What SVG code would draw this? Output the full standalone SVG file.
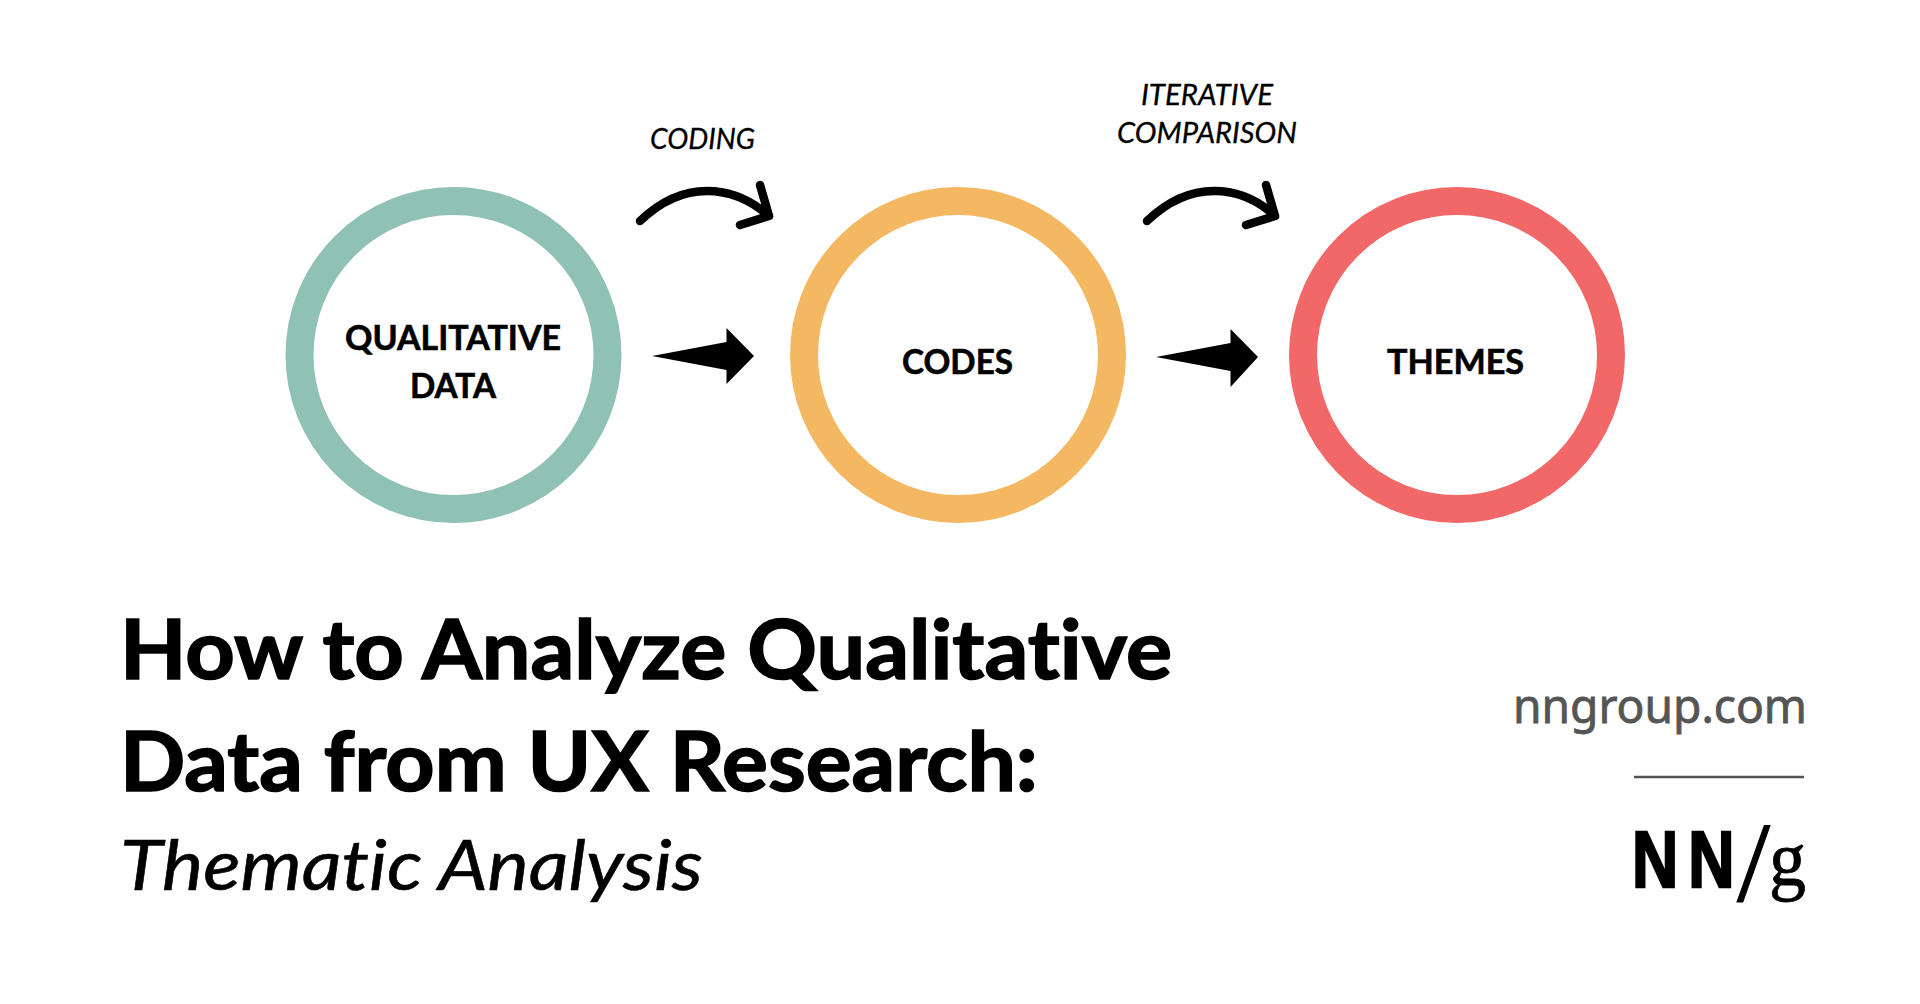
<svg xmlns="http://www.w3.org/2000/svg" width="1920" height="1004" viewBox="0 0 1920 1004">
<style>
text{font-family:"Lato","Open Sans",sans-serif;fill:#000;font-variant-ligatures:none}
.ring{fill:#fff;stroke-width:28}
.node{font-size:34px;font-weight:700;stroke:#000;stroke-width:.6px}
.lab{font-size:28px;font-style:italic;stroke:#000;stroke-width:.3px}
.curve{fill:none;stroke:#000;stroke-width:8.500;stroke-linecap:round;stroke-linejoin:round}
.title{font-size:82px;font-weight:700;stroke:#000;stroke-width:1.6px}
</style>
<rect width="1920" height="1004" fill="#fff"/>
<g id="connectors">
<path id="curve-1" class="curve" d="M640 221C662 200 686 191 707 191C732 191 752 201 769 216M760 185L769 216L740 225"/>
<path id="curve-2" class="curve" d="M1147 221C1169 200 1193 191 1214 191C1239 191 1259 201 1275 216M1266 185L1275 216L1246 225"/>
<polygon id="arrow-1" points="652,356 726.5,342 726.5,328 754,356 726.5,384 726.5,370"/>
<polygon id="arrow-2" points="1156,357 1230.5,343 1230.5,329 1258,357 1230.5,387 1230.5,371"/>
<text class="lab" x="650" y="149" textLength="105" lengthAdjust="spacingAndGlyphs">CODING</text>
<text class="lab" x="1141" y="105" textLength="132" lengthAdjust="spacingAndGlyphs">ITERATIVE</text>
<text class="lab" x="1117" y="143" textLength="180" lengthAdjust="spacingAndGlyphs">COMPARISON</text>
</g>
<g id="node-qualitative-data">
<circle class="ring" cx="453.500" cy="355" r="154" stroke="#8FC1B5"/>
<text class="node" x="345" y="350" textLength="216" lengthAdjust="spacingAndGlyphs">QUALITATIVE</text>
<text class="node" x="410" y="398" textLength="86" lengthAdjust="spacingAndGlyphs">DATA</text>
</g>
<g id="node-codes">
<circle class="ring" cx="958" cy="355" r="154" stroke="#F4B862"/>
<text class="node" x="902" y="374" textLength="111" lengthAdjust="spacingAndGlyphs">CODES</text>
</g>
<g id="node-themes">
<circle class="ring" cx="1457" cy="355" r="154" stroke="#F26868"/>
<text class="node" x="1387" y="374" textLength="137" lengthAdjust="spacingAndGlyphs">THEMES</text>
</g>
<g id="title">
<text class="title" x="120" y="679" textLength="1052" lengthAdjust="spacingAndGlyphs">How to Analyze Qualitative</text>
<text class="title" x="120" y="791" textLength="918" lengthAdjust="spacingAndGlyphs">Data from UX Research:</text>
<text x="120" y="890" font-size="70" font-style="italic" textLength="583" lengthAdjust="spacingAndGlyphs" stroke="#000" stroke-width=".6">Thematic Analysis</text>
</g>
<g id="brand">
<text x="1513" y="723" font-size="48" style="font-family:'Noto Sans',sans-serif;fill:#555;stroke:#555;stroke-width:.8px" textLength="294" lengthAdjust="spacingAndGlyphs">nngroup.com</text>
<line x1="1634" y1="777" x2="1804" y2="777" stroke="#555" stroke-width="2.500"/>
<text transform="translate(1632 887) scale(.8 1)" font-size="80" font-weight="700" letter-spacing="12.500" style="font-family:'Liberation Sans',sans-serif;stroke:#000;stroke-width:2.500px">NN</text>
<text x="1737" y="901" font-size="115" style="font-family:'Liberation Serif',serif;stroke:#000;stroke-width:1px" textLength="33" lengthAdjust="spacingAndGlyphs">/</text>
<text x="1769" y="885" font-size="78" style="font-family:'Liberation Serif',serif;stroke:#000;stroke-width:.8px" textLength="37" lengthAdjust="spacingAndGlyphs">g</text>
</g>
</svg>
